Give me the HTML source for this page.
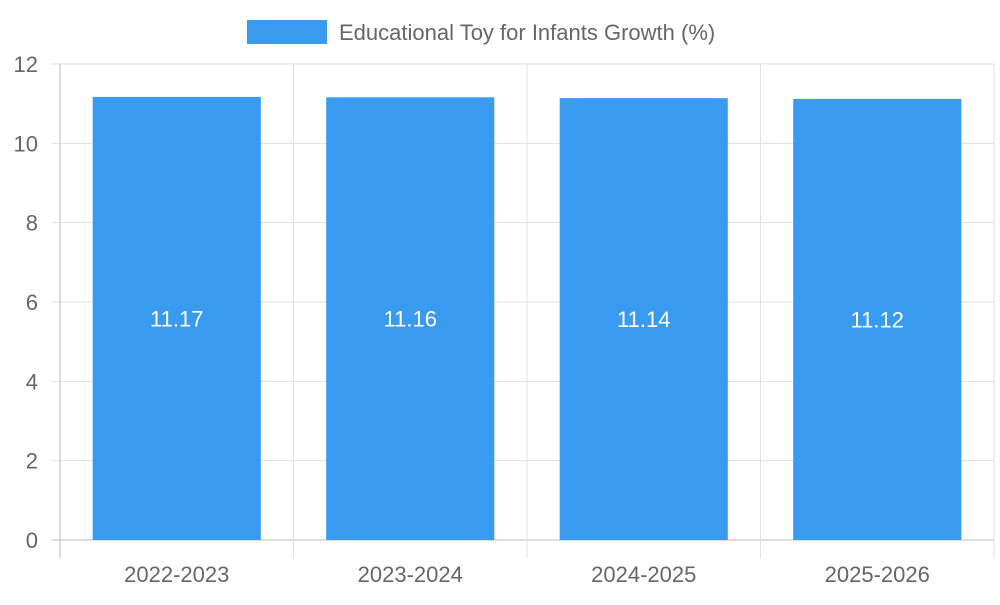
<!DOCTYPE html>
<html><head><meta charset="utf-8"><style>
body{margin:0;background:#fff;font-family:"Liberation Sans",sans-serif;}
</style></head><body>
<svg id="chart" width="1000" height="600" font-family="Liberation Sans, sans-serif"></svg>
<script>
const categories=["2022-2023","2023-2024","2024-2025","2025-2026"];
const values=[11.17,11.16,11.14,11.12];
const yTicks=[0,2,4,6,8,10,12];
const seriesName="Educational Toy for Infants Growth (%)";
const ns="http://www.w3.org/2000/svg";
const svg=document.getElementById('chart');
const L=60,R=994,T=64,B=540,yMax=12;
const y=v=>B-(v/yMax)*(B-T);
const bw=(R-L)/categories.length;
const x=i=>L+bw*i;
function mk(tag,attrs,parent){const e=document.createElementNS(ns,tag);for(const k in attrs)e.setAttribute(k,attrs[k]);(parent||svg).appendChild(e);return e;}
// legend
const lg=mk('g',{});


const lb=mk('rect',{x:247,y:20,width:80,height:24,fill:'#399bf0'},lg);


const lt=mk('text',{x:339,y:40,'font-size':22,fill:'#666'},lg);
lt.textContent=seriesName;


// grid
yTicks.forEach(t=>{
  const g=mk('line',{x1:L-8,x2:R,y1:y(t),y2:y(t),stroke:t===0?'#bbb':'#e0e0e0','stroke-width':1});
  
  
  const tx=mk('text',{x:38,y:y(t)+8,'font-size':22,fill:'#666','text-anchor':'end'});
  tx.textContent=t;
  
  
});
for(let i=0;i<=categories.length;i++){
  const g=mk('line',{x1:x(i),x2:x(i),y1:T,y2:B+18,stroke:i===0?'#bbb':'#e0e0e0','stroke-width':1});
  
  
}
categories.forEach((c,i)=>{
  const cx=x(i)+bw/2, w=bw*0.72;
  const r=mk('rect',{x:cx-w/2,y:y(values[i]),width:w,height:B-y(values[i]),fill:'#399bf0'});
  
  
  const vl=mk('text',{x:cx,y:(y(values[i])+B)/2+8,'font-size':22,fill:'#fff','text-anchor':'middle'});
  vl.textContent=values[i].toFixed(2);
  
  
  const xl=mk('text',{x:cx,y:582,'font-size':22,fill:'#666','text-anchor':'middle'});
  xl.textContent=c;
  
  
});
</script>
</body></html>
